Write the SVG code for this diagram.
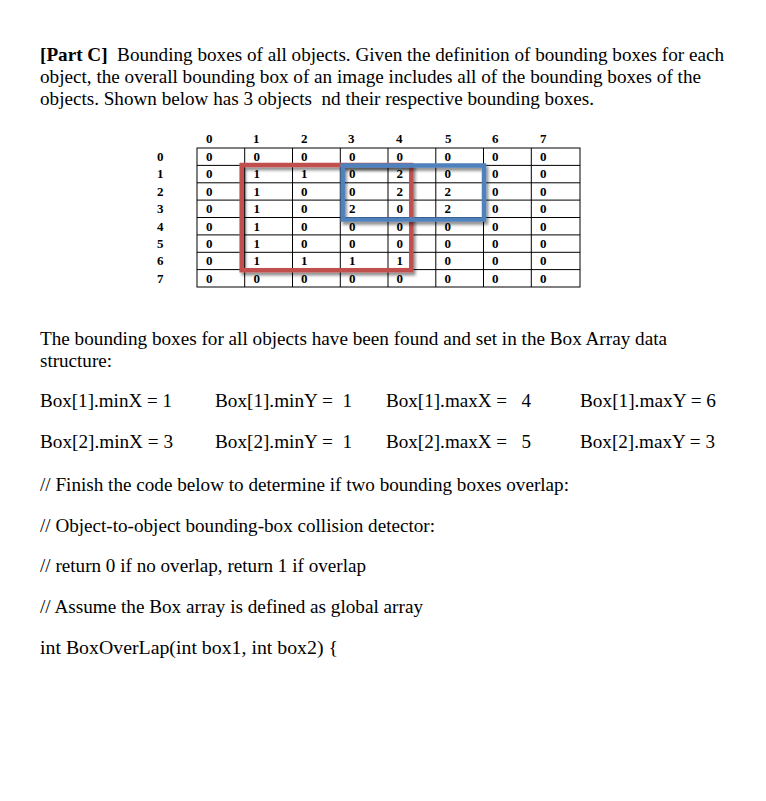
<svg xmlns="http://www.w3.org/2000/svg" width="766" height="801" viewBox="0 0 766 801" xml:space="preserve">
<defs>
<style>
.t{font-family:"Liberation Serif","Times New Roman",serif;font-size:19px;fill:#000;white-space:pre}
.b{font-weight:bold}
.n{font-family:"Liberation Serif","Times New Roman",serif;font-size:13px;font-weight:bold;fill:#000}
.g{stroke:#000;stroke-width:1;fill:none}
</style>
<filter id="sh" x="-10%" y="-10%" width="130%" height="130%">
<feDropShadow dx="2" dy="3" stdDeviation="1.5" flood-color="#000" flood-opacity="0.45"/>
</filter>
</defs>
<rect width="766" height="801" fill="#fff"/>
<g id="intro">
<text class="t" x="40" y="61" textLength="684" lengthAdjust="spacingAndGlyphs"><tspan class="b">[Part C]</tspan>  Bounding boxes of all objects. Given the definition of bounding boxes for each</text>
<text class="t" x="40" y="83" textLength="661" lengthAdjust="spacingAndGlyphs">object, the overall bounding box of an image includes all of the bounding boxes of the</text>
<text class="t" x="40" y="105" textLength="554" lengthAdjust="spacingAndGlyphs">objects. Shown below has 3 objects  nd their respective bounding boxes.</text>
</g>
<g id="table">
<g class="n">
<text x="206" y="143">0</text><text x="253" y="143">1</text><text x="301" y="143">2</text><text x="348" y="143">3</text><text x="396" y="143">4</text><text x="445" y="143">5</text><text x="492" y="143">6</text><text x="540" y="143">7</text>
<text x="157" y="161">0</text><text x="157" y="178.4">1</text><text x="157" y="195.8">2</text><text x="157" y="213.1">3</text><text x="157" y="230.5">4</text><text x="157" y="247.9">5</text><text x="157" y="265.3">6</text><text x="157" y="282.6">7</text>
</g>
<g class="g">
<rect x="197" y="148" width="383" height="139"/>
<path d="M244.7 148V287M292.5 148V287M340.3 148V287M388 148V287M435.8 148V287M483.5 148V287M531.3 148V287"/>
<path d="M197 165.4H580M197 182.8H580M197 200.1H580M197 217.5H580M197 234.9H580M197 252.3H580M197 269.6H580"/>
</g>
<g class="n">
<text x="206" y="161">0</text><text x="253.5" y="161">0</text><text x="301" y="161">0</text><text x="349" y="161">0</text><text x="396.5" y="161">0</text><text x="444.5" y="161">0</text><text x="492" y="161">0</text><text x="540" y="161">0</text>
<text x="206" y="178.4">0</text><text x="253.5" y="178.4">1</text><text x="301" y="178.4">1</text><text x="349" y="178.4">0</text><text x="396.5" y="178.4">2</text><text x="444.5" y="178.4">0</text><text x="492" y="178.4">0</text><text x="540" y="178.4">0</text>
<text x="206" y="195.8">0</text><text x="253.5" y="195.8">1</text><text x="301" y="195.8">0</text><text x="349" y="195.8">0</text><text x="396.5" y="195.8">2</text><text x="444.5" y="195.8">2</text><text x="492" y="195.8">0</text><text x="540" y="195.8">0</text>
<text x="206" y="213.1">0</text><text x="253.5" y="213.1">1</text><text x="301" y="213.1">0</text><text x="349" y="213.1">2</text><text x="396.5" y="213.1">0</text><text x="444.5" y="213.1">2</text><text x="492" y="213.1">0</text><text x="540" y="213.1">0</text>
<text x="206" y="230.5">0</text><text x="253.5" y="230.5">1</text><text x="301" y="230.5">0</text><text x="349" y="230.5">0</text><text x="396.5" y="230.5">0</text><text x="444.5" y="230.5">0</text><text x="492" y="230.5">0</text><text x="540" y="230.5">0</text>
<text x="206" y="247.9">0</text><text x="253.5" y="247.9">1</text><text x="301" y="247.9">0</text><text x="349" y="247.9">0</text><text x="396.5" y="247.9">0</text><text x="444.5" y="247.9">0</text><text x="492" y="247.9">0</text><text x="540" y="247.9">0</text>
<text x="206" y="265.3">0</text><text x="253.5" y="265.3">1</text><text x="301" y="265.3">1</text><text x="349" y="265.3">1</text><text x="396.5" y="265.3">1</text><text x="444.5" y="265.3">0</text><text x="492" y="265.3">0</text><text x="540" y="265.3">0</text>
<text x="206" y="282.6">0</text><text x="253.5" y="282.6">0</text><text x="301" y="282.6">0</text><text x="349" y="282.6">0</text><text x="396.5" y="282.6">0</text><text x="444.5" y="282.6">0</text><text x="492" y="282.6">0</text><text x="540" y="282.6">0</text>
</g>
</g>
<g id="box1">
<rect x="241.7" y="165" width="169.6" height="105.2" fill="none" stroke="#c0504d" stroke-width="4.5" filter="url(#sh)"/>
</g>
<g id="box2">
<rect x="342.7" y="165.5" width="141.3" height="54" fill="none" stroke="#4f81bd" stroke-width="4.5" filter="url(#sh)"/>
</g>
<g id="body">
<text class="t" x="40" y="345" textLength="627" lengthAdjust="spacingAndGlyphs">The bounding boxes for all objects have been found and set in the Box Array data</text>
<text class="t" x="40" y="367" textLength="72" lengthAdjust="spacingAndGlyphs">structure:</text>
<text class="t" x="40" y="407" textLength="132" lengthAdjust="spacingAndGlyphs">Box[1].minX = 1</text>
<text class="t" x="215" y="407" textLength="137" lengthAdjust="spacingAndGlyphs">Box[1].minY =  1</text>
<text class="t" x="386" y="407" textLength="145" lengthAdjust="spacingAndGlyphs">Box[1].maxX =   4</text>
<text class="t" x="580" y="407" textLength="136" lengthAdjust="spacingAndGlyphs">Box[1].maxY = 6</text>
<text class="t" x="40" y="448" textLength="133" lengthAdjust="spacingAndGlyphs">Box[2].minX = 3</text>
<text class="t" x="215" y="448" textLength="137" lengthAdjust="spacingAndGlyphs">Box[2].minY =  1</text>
<text class="t" x="386" y="448" textLength="145" lengthAdjust="spacingAndGlyphs">Box[2].maxX =   5</text>
<text class="t" x="580" y="448" textLength="135" lengthAdjust="spacingAndGlyphs">Box[2].maxY = 3</text>
<text class="t" x="40" y="491" textLength="529" lengthAdjust="spacingAndGlyphs">// Finish the code below to determine if two bounding boxes overlap:</text>
<text class="t" x="40" y="532" textLength="395" lengthAdjust="spacingAndGlyphs">// Object-to-object bounding-box collision detector:</text>
<text class="t" x="40" y="572" textLength="326" lengthAdjust="spacingAndGlyphs">// return 0 if no overlap, return 1 if overlap</text>
<text class="t" x="40" y="613" textLength="383" lengthAdjust="spacingAndGlyphs">// Assume the Box array is defined as global array</text>
<text class="t" x="40" y="654" textLength="298" lengthAdjust="spacingAndGlyphs">int BoxOverLap(int box1, int box2) {</text>
</g>
</svg>
